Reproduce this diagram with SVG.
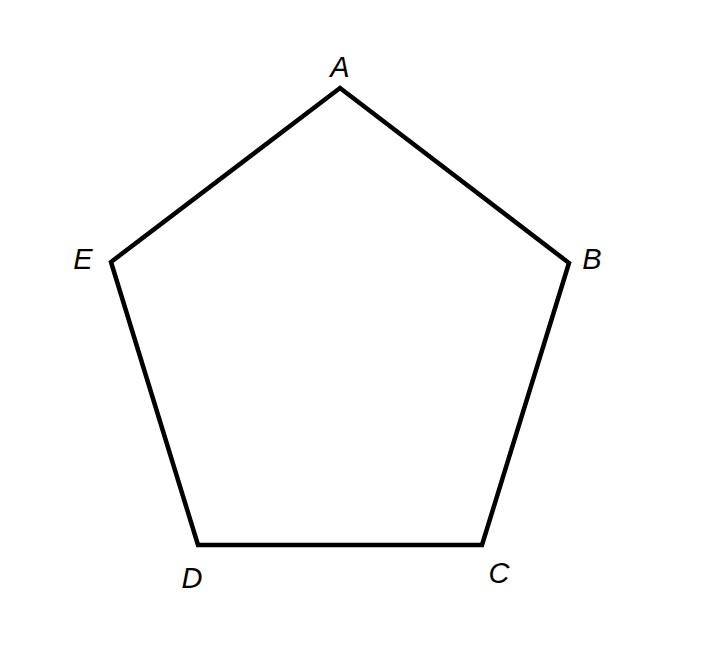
<svg xmlns="http://www.w3.org/2000/svg" width="721" height="650" viewBox="0 0 721 650">
<style>
.lbl{font-family:"Liberation Sans",Arial,sans-serif;font-style:italic;font-size:29px;fill:#000;text-anchor:middle}
</style>
<rect width="721" height="650" fill="#fff"/>
<g id="connectors">
<polygon points="340,88 569,263 482,545 198,545 111,262" fill="none" stroke="#000" stroke-width="4.5" stroke-linejoin="miter"/>
</g>
<g id="A"><text class="lbl" x="340" y="77">A</text></g>
<g id="B"><text class="lbl" x="592" y="269">B</text></g>
<g id="C"><text class="lbl" x="499" y="583">C</text></g>
<g id="D"><text class="lbl" x="192" y="588">D</text></g>
<g id="E"><text class="lbl" x="83" y="269">E</text></g>
</svg>
